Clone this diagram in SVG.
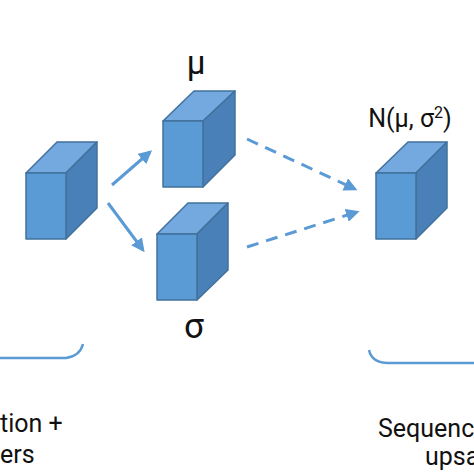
<svg xmlns="http://www.w3.org/2000/svg" width="474" height="474" viewBox="0 0 474 474">
<defs>
<style>
.front{fill:#5b9bd5;stroke:#41719c;stroke-width:1.5;stroke-linejoin:round}
.top{fill:#74a9df;stroke:#41719c;stroke-width:1.5;stroke-linejoin:round}
.side{fill:#4a80b8;stroke:#41719c;stroke-width:1.5;stroke-linejoin:round}
.arr{stroke:#5b9bd5;stroke-width:3;fill:none}
.dash{stroke:#5b9bd5;stroke-width:3;fill:none;stroke-dasharray:12 8}
.brace{stroke:#5b9bd5;stroke-width:2.5;fill:none}
text{font-family:Roboto,"Liberation Sans",sans-serif;fill:#111}
</style>
<marker id="ah" viewBox="0 0 10 10" refX="8" refY="5" markerWidth="4.5" markerHeight="4.5" orient="auto" markerUnits="strokeWidth">
<path d="M0,0 L10,5 L0,10 z" fill="#5b9bd5"/>
</marker>
</defs>
<rect width="474" height="474" fill="#fff"/>
<g id="cube-input">
<polygon class="top" points="26,173 57,142 97,142 66,173"/>
<polygon class="side" points="66,173 97,142 97,208 66,239"/>
<rect class="front" x="26" y="173" width="40" height="66"/>
</g>
<g id="cube-mu">
<polygon class="top" points="163,121 194,91 235,91 203,121"/>
<polygon class="side" points="203,121 235,91 235,155 203,187"/>
<rect class="front" x="163" y="121" width="40" height="66"/>
<text x="196" y="74" font-size="33" text-anchor="middle">μ</text>
</g>
<g id="cube-sigma">
<polygon class="top" points="157,234 188,203 228,203 197,234"/>
<polygon class="side" points="197,234 228,203 228,270 197,300"/>
<rect class="front" x="157" y="234" width="40" height="66"/>
<text x="194" y="338" font-size="35" text-anchor="middle">σ</text>
</g>
<g id="cube-output">
<polygon class="top" points="376,173 408,142 447,142 416,173"/>
<polygon class="side" points="416,173 447,142 447,208 416,239"/>
<rect class="front" x="376" y="173" width="40" height="66"/>
<text x="410" y="127" font-size="25" text-anchor="middle">N(μ, σ<tspan font-size="16" dy="-9">2</tspan><tspan dy="9">)</tspan></text>
</g>
<g id="connectors">
<line class="arr" x1="112" y1="185" x2="150" y2="152" marker-end="url(#ah)"/>
<line class="arr" x1="108" y1="203" x2="143" y2="250" marker-end="url(#ah)"/>
<line class="dash" x1="247" y1="139" x2="355" y2="189" marker-end="url(#ah)"/>
<line class="dash" x1="247" y1="247" x2="357" y2="212" marker-end="url(#ah)"/>
</g>
<g id="labels">
<path class="brace" d="M0,358 L66,358 Q80,356 83,344"/>
<path class="brace" d="M369,350 Q372,363 388,363 L474,363"/>
<text x="0" y="432" font-size="25">tion +</text>
<text x="0" y="463" font-size="25">ers</text>
<text x="378" y="437" font-size="25">Sequenc</text>
<text x="425" y="465" font-size="25">upsa</text>
</g>
</svg>
